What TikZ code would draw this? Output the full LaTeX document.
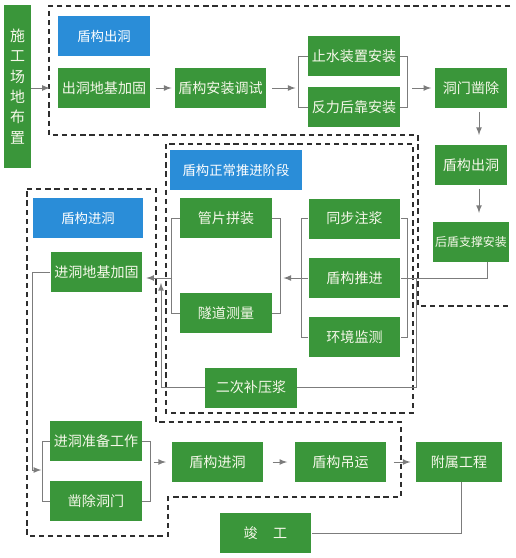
\documentclass[tikz,border=0pt]{standalone}
\usepackage{fontspec}
\setmainfont{Noto Sans CJK SC}
\usetikzlibrary{positioning,arrows}
\definecolor{boxgreen}{HTML}{3A963A}
\definecolor{labblue}{HTML}{2A8DD8}
\definecolor{lngrey}{HTML}{7C7C7C}
\definecolor{zonegrey}{HTML}{2E2E2E}
\definecolor{boxtext}{HTML}{F6F8EA}
\tikzset{
  gb/.style   ={rectangle, fill=boxgreen, text=boxtext, align=center,
                font=\fontsize{8}{9}\selectfont,
                minimum width=18.4mm, minimum height=8mm, inner sep=1pt},
  bb/.style   ={gb, fill=labblue, text=white, font=\fontsize{7.6}{9}\selectfont},
  ln/.style   ={draw=lngrey, line width=0.5pt},
  fl/.style   ={ln, -latex},
  zone/.style ={draw=zonegrey, line width=1.1pt, dash pattern=on 3pt off 2.2pt}
}
\begin{document}
\begin{tikzpicture}[x=0.02cm,y=-0.02cm]
  \fill[white] (0,0) rectangle (515,558);
  \useasboundingbox (0,0) rectangle (515,558);
  % --- dashed zones
  \draw[zone] (510,6) -- (49,6) -- (49,135) -- (418,135) -- (418,306) -- (510,306);
  \draw[zone] (166,144) rectangle (413,413);
  \draw[zone] (27,189) -- (156,189) -- (156,422) -- (401,422) -- (401,497)
        -- (168,497) -- (168,536) -- (27,536) -- cycle;
  % --- site preparation
  \node[gb,minimum width=5.4mm,minimum height=32.6mm,font=\fontsize{8.5}{11.6}\selectfont]
                                    (site)    at (17.5,86.5) {施\\工\\场\\地\\布\\置};
  % --- row 1 : shield exit
  \node[bb]                         (outlbl)  at (104,36)   {盾构出洞};
  \node[gb]                         (outsoil) at (104,88)   {出洞地基加固};
  \node[gb]                         (install) at (220.5,88) {盾构安装调试};
  \node[gb]                         (waterst) at (354,56)   {止水装置安装};
  \node[gb]                         (reaction)at (354,107)  {反力后靠安装};
  \node[gb,minimum width=14.4mm]    (portal)  at (471,88)   {洞门凿除};
  \node[gb,minimum width=14.4mm]    (exitsh)  at (471,165)  {盾构出洞};
  \node[gb,minimum width=14.4mm,font=\fontsize{6.8}{8}\selectfont]
                                    (backsup) at (471,242)  {后盾支撑安装};
  % --- normal driving
  \node[bb,minimum width=26.4mm]    (midlbl)  at (236,170)  {盾构正常推进阶段};
  \node[gb]                         (segment) at (226,218)  {管片拼装};
  \node[gb]                         (survey)  at (226,313)  {隧道测量};
  \node[gb]                         (grout)   at (354.5,218.5) {同步注浆};
  \node[gb]                         (push)    at (354.5,278) {盾构推进};
  \node[gb]                         (monitor) at (354.5,337) {环境监测};
  \node[gb]                         (regrout) at (251,387.5) {二次补压浆};
  % --- shield entry
  \node[bb,minimum width=22mm]      (inlbl)   at (88,218)   {盾构进洞};
  \node[gb]                         (insoil)  at (96.5,272) {进洞地基加固};
  \node[gb]                         (prep)    at (96,441)   {进洞准备工作};
  \node[gb]                         (breakin) at (96,501)   {凿除洞门};
  \node[gb]                         (entry)   at (217.5,462) {盾构进洞};
  \node[gb]                         (hoist)   at (340.5,462) {盾构吊运};
  \node[gb,minimum width=17.2mm]    (aux)     at (459,462)  {附属工程};
  \node[gb]                         (done)    at (265.5,533) {竣\hspace{1.1em}工};

  \coordinate (brl) at (299,88);  \coordinate (brr) at (407,88);
  \coordinate (jn)  at (416,278); \coordinate (upt) at (161,283);
  \coordinate (brb) at (280,278); \coordinate (bra) at (172,278);
  \coordinate (cbl) at (43,470);  \coordinate (cbr) at (150,462);

  \draw[fl,shorten >=4.5pt] (site.east |- outsoil.west) -- (outsoil.west);
  \draw[fl,shorten <=3pt,shorten >=1.5pt] (outsoil) -- (install);
  \draw[fl,shorten <=3pt,shorten >=2pt] (install.east) -- (brl);
  \draw[ln] (waterst.west) -- ++(-9,0) |- (reaction.west);
  \draw[ln] (waterst.east) -- ++(7,0) |- (reaction.east);
  \draw[fl,shorten <=3pt,shorten >=2pt] (brr) -- (portal.west);
  \draw[fl,shorten <=2pt,shorten >=5.5pt] ([xshift=1.6mm]portal.south) -- ([xshift=1.6mm]exitsh.north);
  \draw[fl,shorten <=2pt,shorten >=5pt] ([xshift=1.6mm]exitsh.south) -- ([xshift=1.6mm]backsup.north);
  \draw[ln] ([xshift=3.2mm]backsup.south) |- (push.east);
  \draw[ln] (jn) |- (regrout.east);
  \draw[fl] (regrout.west) -| (upt);
  \draw[ln] (grout.west) -- ++(-7,0) |- (monitor.west);
  \draw[ln] (grout.east) -- ++(7,0) |- (monitor.east);
  \draw[fl,shorten >=2pt] (push.west) -- (brb);
  \draw[ln] (segment.west) -- ++(-8,0) |- (survey.west);
  \draw[ln] (segment.east) -- ++(8,0) |- (survey.east);
  \draw[fl,shorten >=2pt] (bra) -- (bra -| insoil.east);
  \draw[fl,shorten >=1pt] (insoil.west) -- ++(-18,0) |- (cbl);
  \draw[ln] (prep.west) -- ++(-7,0) |- (breakin.west);
  \draw[ln] (prep.east) -- ++(8,0) |- (breakin.east);
  \draw[fl,shorten <=2pt,shorten >=3pt] (cbr) -- (entry.west);
  \draw[fl,shorten <=5pt,shorten >=4pt] (entry) -- (hoist);
  \draw[fl,shorten <=4pt,shorten >=3pt] (hoist) -- (aux);
  \draw[ln] ([xshift=0.04cm]aux.south) |- (done.east);
\end{tikzpicture}
\end{document}
